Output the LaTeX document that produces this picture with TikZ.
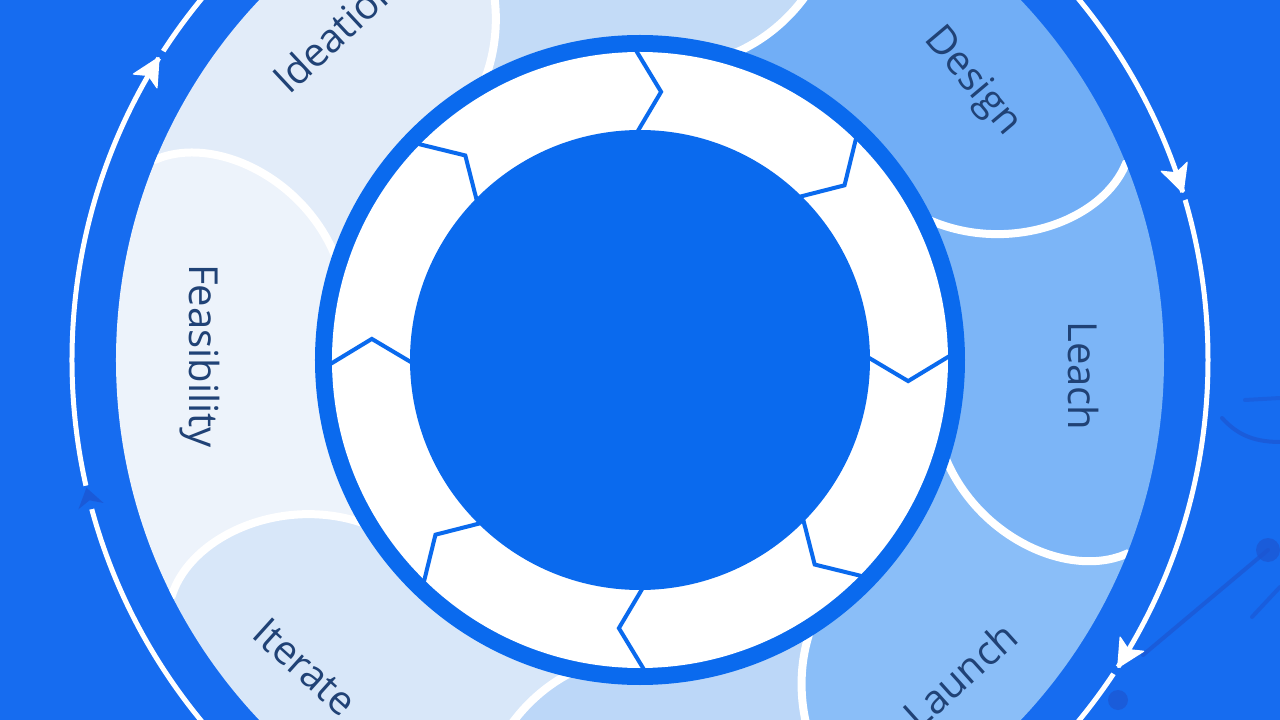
\documentclass[tikz,border=0pt]{standalone}
\usepackage{fontspec}
\setmainfont{Open Sans}
\definecolor{bgblue}{RGB}{22,108,240}
\definecolor{ringblue}{RGB}{10,106,238}
\definecolor{txt}{RGB}{32,66,118}
\definecolor{segTop}{RGB}{195,219,247}
\definecolor{segDesign}{RGB}{113,174,246}
\definecolor{segLeach}{RGB}{124,181,247}
\definecolor{segLaunch}{RGB}{138,190,248}
\definecolor{segBottom}{RGB}{188,215,248}
\definecolor{segIterate}{RGB}{216,231,249}
\definecolor{segFeas}{RGB}{237,243,251}
\definecolor{segIdea}{RGB}{226,236,249}
\definecolor{faint}{RGB}{28,86,210}
\begin{document}
\begin{tikzpicture}[x=1pt,y=1pt,
  lbl/.style={text=txt, font=\fontsize{40}{44}\selectfont, inner sep=0pt},
  sepline/.style={white, line width=8pt},
  chev/.style={ringblue, line width=4pt, line join=miter},
  deco/.style={faint, line width=4pt, opacity=.7, line cap=round}]
\useasboundingbox (-640,-360) rectangle (640,360);
\clip (-640,-360) rectangle (640,360);
\fill[bgblue] (-640,-360) rectangle (640,360);
% faint background decorations
\draw[deco] (582,-58) .. controls (595,-72) and (610,-82) .. (640,-82);
\draw[deco, opacity=.5] (605,-40) -- (640,-38);
\fill[faint, opacity=.7] (628,-190) circle[radius=12];
\draw[deco] (628,-190) -- (503,-295);
\draw[deco, opacity=.6] (640,-227) -- (612,-257);
\fill[faint, opacity=.7] (478,-340) circle[radius=10];
% outer pale segments
\begin{scope}
\clip (0,0) circle[radius=524];
\foreach \a/\b/\c in {115/69/segTop, 69/22/segDesign, 22/-21.7/segLeach, -21.7/-62/segLaunch, -62/-106.5/segBottom, -106.5/-153.3/segIterate, 206.7/157.5/segFeas, 157.5/115/segIdea}{
  \fill[\c] ({\a+3.93}:300) -- ({\a+3.93}:320.8) .. controls ({\a-6.01}:382.1) and ({\a-5.36}:482.1) .. (\a:524) -- (\a:600) arc[start angle=\a, end angle=\b, radius=600] -- (\b:524) .. controls ({\b-5.36}:482.1) and ({\b-6.01}:382.1) .. ({\b+3.93}:320.8) -- ({\b+3.93}:300) arc[start angle={\b+3.93}, end angle={\a+3.93}, radius=300] -- cycle;
}
\foreach \a in {115,69,22,-21.7,-62,-106.5,-153.3,157.5}{
  \draw[sepline] ({\a+3.93}:300) -- ({\a+3.93}:320.8) .. controls ({\a-6.01}:382.1) and ({\a-5.36}:482.1) .. (\a:524) -- (\a:560);
}
\end{scope}
% inner ring
\fill[ringblue] (0,0) circle[radius=325];
\fill[white] (0,0) circle[radius=308];
\foreach \t in {85.5,40.5,-4.5,-49.5,-94.5,-139.5,175.5,130.5}{
  \draw[chev] ({\t+5.5}:312) -- (\t:269) -- ({\t+5.5}:226);
}
\fill[ringblue] (0,0) circle[radius=230];
% outer white cycle line with arrowheads
\draw[white, line width=5pt] (0,0) circle[radius=568];
\foreach \p in {149.6,18.9,-31}{
  \begin{scope}[rotate=\p]
    \draw[bgblue, line width=9pt] (568,-17) -- (568,-25);
    \fill[white, rounded corners=2pt] (568,-19) -- (583,11) -- (568,4) -- (553,11) -- cycle;
  \end{scope}
}
\begin{scope}[rotate=194]
  \draw[bgblue, line width=9pt] (568,-12) -- (568,12);
  \fill[faint, opacity=.8] (568,-10) -- (581,9) -- (568,3) -- (555,9) -- cycle;
\end{scope}
% labels
\node[lbl, anchor=base west, rotate=43] (ideation) at (-351,264) {Ideation};
\node[lbl, rotate=-50] (design) at (332,278) {Design};
\node[lbl, rotate=-90] (leach) at (443,-16) {Leach};
\node[lbl, rotate=42] (launch) at (320,-315) {Launch};
\node[lbl, rotate=-42] (iterate) at (-335,-307) {Iterate};
\node[lbl, rotate=-90] (feas) at (-440,4) {Feasibility};
\end{tikzpicture}
\end{document}
